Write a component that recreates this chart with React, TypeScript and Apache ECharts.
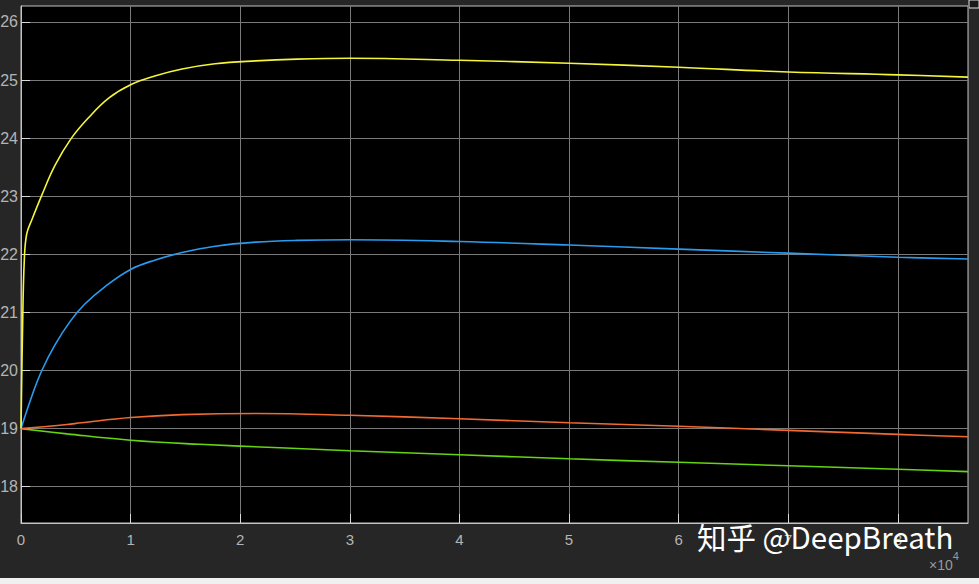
import React, { useEffect, useRef } from "react";
import * as echarts from "echarts";

// time in seconds
const yellowT = [0, 150, 300, 520, 1000, 1900, 3100, 4600, 6200, 8000, 10000, 12200, 14700, 17700, 21400, 25200, 30000, 40000, 50000, 60000, 70000, 80000, 86400];
const yellowV = [19, 20.8, 21.9, 22.35, 22.6, 23.02, 23.53, 24.0, 24.36, 24.69, 24.92, 25.07, 25.19, 25.28, 25.33, 25.36, 25.375, 25.34, 25.29, 25.22, 25.14, 25.09, 25.05];

const blueT = [0, 970, 1900, 3100, 4500, 5800, 7700, 10000, 12200, 14700, 17700, 21400, 25200, 30000, 40000, 50000, 60000, 70000, 80000, 86400];
const blueV = [19, 19.55, 20.0, 20.44, 20.85, 21.14, 21.45, 21.74, 21.9, 22.03, 22.14, 22.21, 22.24, 22.25, 22.22, 22.16, 22.09, 22.02, 21.95, 21.92];

const orangeT = [0, 4200, 5500, 10000, 14700, 21400, 30000, 40000, 50000, 60000, 70000, 80000, 86400];
const orangeV = [19, 19.07, 19.1, 19.19, 19.24, 19.26, 19.23, 19.17, 19.1, 19.04, 18.97, 18.9, 18.86];

const greenT = [0, 4200, 10000, 16300, 23600, 30000, 40000, 50000, 60000, 70000, 80000, 86400];
const greenV = [19, 18.91, 18.8, 18.73, 18.67, 18.62, 18.55, 18.48, 18.42, 18.36, 18.3, 18.26];

const yTicks = [18, 19, 20, 21, 22, 23, 24, 25, 26];
const xTickStep = 10000;
const xMax = 86400;
const yMin = 17.375;
const yMax = 26.275;

const zip = (t: number[], v: number[]) => t.map((x, i) => [x, v[i]]);

export default function App() {
  const ref = useRef<HTMLDivElement>(null);
  useEffect(() => {
    const chart = echarts.init(ref.current!, null, { renderer: "svg" });
    const mk = (name: string, t: number[], v: number[], color: string) => ({
      name,
      type: "line",
      data: zip(t, v),
      showSymbol: false,
      smooth: 0.4,
      lineStyle: { color, width: 1.6 },
      itemStyle: { color },
      z: 5,
    });
    chart.setOption({
      animation: false,
      backgroundColor: "#262626",
      grid: {
        left: 21,
        right: 11,
        top: 6,
        bottom: 61,
        containLabel: false,
        outerBoundsMode: "none",
        show: true,
        backgroundColor: "#000000",
        borderColor: "#c4c4c4",
        borderWidth: 1,
      },
      xAxis: {
        type: "value",
        min: 0,
        max: xMax,
        interval: xTickStep,
        axisLine: { show: true, lineStyle: { color: "#c4c4c4", width: 1 } },
        axisTick: { show: true, inside: true, length: 9, lineStyle: { color: "#d8d8d8" } },
        splitLine: { show: true, lineStyle: { color: "#7a7a7a", width: 1 } },
        axisLabel: {
          color: "#b4b4b4",
          fontSize: 15,
          fontFamily: "Liberation Sans, Arial, sans-serif",
          margin: 9,
          showMaxLabel: false,
          formatter: (v: number) => String(v / 10000),
        },
      },
      yAxis: {
        type: "value",
        min: yMin,
        max: yMax,
        axisLine: { show: true, lineStyle: { color: "#c4c4c4", width: 1 } },
        axisTick: { show: true, inside: true, length: 9, customValues: yTicks, lineStyle: { color: "#d8d8d8" } },
        splitLine: { show: true, lineStyle: { color: "#7a7a7a", width: 1 } },
        axisLabel: {
          color: "#b4b4b4",
          fontSize: 16,
          fontFamily: "Liberation Sans, Arial, sans-serif",
          margin: 3,
          customValues: yTicks,
        },
      },
      series: [
        mk("green", greenT, greenV, "#64d413"),
        mk("orange", orangeT, orangeV, "#f26a30"),
        mk("blue", blueT, blueV, "#2a9cf0"),
        mk("yellow", yellowT, yellowV, "#f5f53a"),
      ],
      graphic: [
        {
          type: "text",
          left: 697,
          top: 521,
          style: {
            text: "知乎 @DeepBreath",
            fill: "#ffffff",
            fontSize: 29.5,
            fontFamily: "Noto Sans CJK SC, Noto Sans, sans-serif",
          },
          z: 10,
        },
        {
          type: "text",
          left: 929,
          top: 550,
          style: {
            text: "{a|×10}{b|4}",
            rich: {
              a: { fill: "#9a9a9a", fontSize: 14, fontFamily: "Liberation Sans, Arial, sans-serif", verticalAlign: "bottom", lineHeight: 22 },
              b: { fill: "#9a9a9a", fontSize: 11, fontFamily: "Liberation Sans, Arial, sans-serif", verticalAlign: "top", lineHeight: 22 },
            },
          },
        },
        {
          type: "rect",
          shape: { x: 0, y: 578, width: 979, height: 6 },
          style: { fill: "#f0f0f0" },
        },
        {
          type: "rect",
          shape: { x: 969, y: 0, width: 10, height: 8 },
          style: { fill: "#1a1a1a", stroke: "#e0e0e0", lineWidth: 1 },
        },
      ],
    });
    return () => chart.dispose();
  }, []);
  return (
    <div
      ref={ref}
      style={{ position: "fixed", left: 0, top: 0, width: 979, height: 584 }}
    />
  );
}
